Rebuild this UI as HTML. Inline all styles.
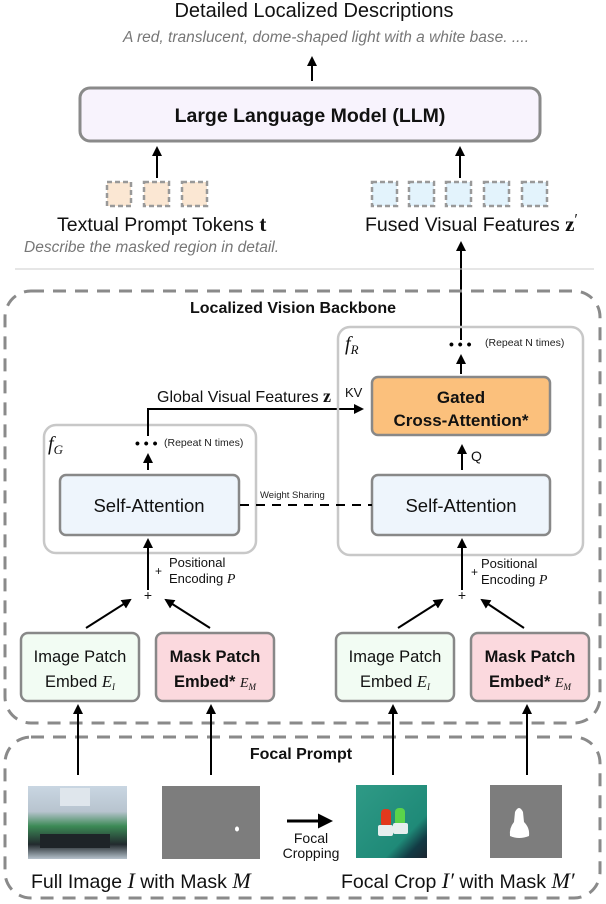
<!DOCTYPE html>
<html><head><meta charset="utf-8"><style>
html,body{margin:0;padding:0;background:#fff;}
svg{display:block;}
text{font-family:"Liberation Sans",sans-serif;}
.m{font-family:"Liberation Serif",serif;font-style:italic;}
</style></head><body>
<svg width="606" height="904" viewBox="0 0 606 904" xmlns="http://www.w3.org/2000/svg">
<defs>
<marker id="ah" viewBox="0 0 10 10" refX="8" refY="5" markerWidth="5" markerHeight="5" orient="auto-start-reverse"><path d="M0,0 L10,5 L0,10 z" fill="#000"/></marker>
<linearGradient id="g1" x1="0" y1="0" x2="0" y2="1"><stop offset="0" stop-color="#c9d6e2"/><stop offset="0.35" stop-color="#b8c4cf"/><stop offset="0.55" stop-color="#3c8a56"/><stop offset="0.8" stop-color="#222a2e"/><stop offset="1" stop-color="#b6c2cc"/></linearGradient>
<linearGradient id="g2" x1="0" y1="0" x2="1" y2="1"><stop offset="0" stop-color="#2f9a86"/><stop offset="0.7" stop-color="#1f8a78"/><stop offset="0.85" stop-color="#123a44"/><stop offset="1" stop-color="#1b2530"/></linearGradient>
</defs>

<text x="314" y="17" font-size="20" text-anchor="middle" fill="#111">Detailed Localized Descriptions</text>
<text x="326" y="42" font-size="15.5" font-style="italic" text-anchor="middle" fill="#777">A red, translucent, dome-shaped light with a white base. ....</text>
<line x1="312" y1="81" x2="312" y2="58" stroke="#000" stroke-width="2" marker-end="url(#ah)"/>
<rect x="80" y="88" width="460" height="53" rx="10" fill="#f8f3fd" stroke="#8a8a8a" stroke-width="3"/>
<text x="310" y="122" font-size="19.5" font-weight="bold" text-anchor="middle" fill="#111">Large Language Model (LLM)</text>
<line x1="157" y1="178" x2="157" y2="148" stroke="#000" stroke-width="2" marker-end="url(#ah)"/>
<line x1="460" y1="178" x2="460" y2="148" stroke="#000" stroke-width="2" marker-end="url(#ah)"/>
<g fill="#fbe7d3" stroke="#999" stroke-width="2.5" stroke-dasharray="5,3">
<rect x="107" y="182" width="24" height="24"/><rect x="144" y="182" width="25" height="24"/><rect x="182" y="182" width="25" height="24"/>
</g>
<g fill="#e3f3fc" stroke="#999" stroke-width="2.5" stroke-dasharray="5,3">
<rect x="372" y="182" width="25" height="24"/><rect x="409" y="182" width="25" height="24"/><rect x="446" y="182" width="25" height="24"/><rect x="484" y="182" width="25" height="24"/><rect x="522" y="182" width="25" height="24"/>
</g>
<text x="57" y="231" font-size="19.5" fill="#111">Textual Prompt Tokens <tspan font-family="Liberation Serif" font-weight="bold" font-size="21">t</tspan></text>
<text x="24" y="252" font-size="15.5" font-style="italic" fill="#777">Describe the masked region in detail.</text>
<text x="365" y="231" font-size="19.5" fill="#111">Fused Visual Features <tspan font-family="Liberation Serif" font-weight="bold" font-size="21">z</tspan><tspan font-size="15" dy="-7">′</tspan></text>
<line x1="461" y1="340" x2="461" y2="243" stroke="#000" stroke-width="2" marker-end="url(#ah)"/>
<line x1="15" y1="269" x2="594" y2="269" stroke="#ccc" stroke-width="1"/>

<rect x="5" y="291" width="595" height="432" rx="26" fill="none" stroke="#8a8a8a" stroke-width="3" stroke-dasharray="13,9"/>
<text x="293" y="313" font-size="16" font-weight="bold" text-anchor="middle" fill="#111">Localized Vision Backbone</text>
<rect x="5" y="737" width="595" height="161" rx="26" fill="none" stroke="#8a8a8a" stroke-width="3" stroke-dasharray="13,9"/>
<text x="301" y="759" font-size="16" font-weight="bold" text-anchor="middle" fill="#111">Focal Prompt</text>

<rect x="44" y="425" width="212" height="128" rx="12" fill="none" stroke="#c8c8c8" stroke-width="2.5"/>
<text x="48" y="450" class="m" font-size="20" fill="#111">f<tspan font-size="13" dy="4">G</tspan></text>
<text x="135" y="448" font-size="14" font-weight="bold" fill="#000">• • •</text>
<text x="164" y="446" font-size="10.5" fill="#222">(Repeat N times)</text>
<line x1="148" y1="470" x2="148" y2="455" stroke="#000" stroke-width="2" marker-end="url(#ah)"/>
<rect x="60" y="475" width="179" height="60" rx="6" fill="#eef5fc" stroke="#888" stroke-width="2.5"/>
<text x="149" y="512" font-size="18.5" text-anchor="middle" fill="#111">Self-Attention</text>
<polyline points="148,436 148,409 362,409" fill="none" stroke="#000" stroke-width="2" marker-end="url(#ah)"/>
<text x="157" y="402" font-size="16" fill="#111">Global Visual Features <tspan font-family="Liberation Serif" font-weight="bold" font-size="18">z</tspan></text>
<text x="345" y="397" font-size="13" fill="#111">KV</text>

<rect x="338" y="327" width="245" height="228" rx="12" fill="none" stroke="#c8c8c8" stroke-width="2.5"/>
<text x="345" y="350" class="m" font-size="20" fill="#111">f<tspan font-size="13" dy="4">R</tspan></text>
<text x="449" y="349" font-size="14" font-weight="bold" fill="#000">• • •</text>
<text x="485" y="346" font-size="10.5" fill="#222">(Repeat N times)</text>
<line x1="461" y1="374" x2="461" y2="356" stroke="#000" stroke-width="2" marker-end="url(#ah)"/>
<rect x="372" y="377" width="178" height="58" rx="6" fill="#fbc07c" stroke="#888" stroke-width="2.5"/>
<text x="461" y="403" font-size="17" font-weight="bold" text-anchor="middle" fill="#111">Gated</text>
<text x="461" y="426" font-size="17" font-weight="bold" text-anchor="middle" fill="#111">Cross-Attention*</text>
<line x1="462" y1="470" x2="462" y2="446" stroke="#000" stroke-width="2" marker-end="url(#ah)"/>
<text x="471" y="461" font-size="14" fill="#111">Q</text>
<rect x="372" y="475" width="178" height="60" rx="6" fill="#eef5fc" stroke="#888" stroke-width="2.5"/>
<text x="461" y="512" font-size="18.5" text-anchor="middle" fill="#111">Self-Attention</text>
<line x1="240" y1="505" x2="372" y2="505" stroke="#000" stroke-width="2" stroke-dasharray="9,7"/>
<text x="260" y="498" font-size="9.5" fill="#222">Weight Sharing</text>

<line x1="148" y1="590" x2="148" y2="540" stroke="#000" stroke-width="2" marker-end="url(#ah)"/>
<text x="155" y="575" font-size="12" fill="#111">+</text>
<text x="169" y="567" font-size="13" fill="#111">Positional</text>
<text x="169" y="583" font-size="13" fill="#111">Encoding <tspan class="m" font-size="14">P</tspan></text>
<text x="148" y="600" font-size="14" text-anchor="middle" fill="#111">+</text>
<line x1="462" y1="590" x2="462" y2="540" stroke="#000" stroke-width="2" marker-end="url(#ah)"/>
<text x="471" y="576" font-size="12" fill="#111">+</text>
<text x="481" y="568" font-size="13" fill="#111">Positional</text>
<text x="481" y="584" font-size="13" fill="#111">Encoding <tspan class="m" font-size="14">P</tspan></text>
<text x="462" y="600" font-size="14" text-anchor="middle" fill="#111">+</text>
<g stroke="#000" stroke-width="2" marker-end="url(#ah)">
<line x1="86" y1="628" x2="130" y2="600"/><line x1="210" y1="628" x2="166" y2="600"/>
<line x1="398" y1="628" x2="442" y2="600"/><line x1="524" y1="628" x2="482" y2="600"/>
</g>

<rect x="21" y="633" width="118" height="68" rx="7" fill="#f2fcf3" stroke="#888" stroke-width="2.5"/>
<text x="80" y="662" font-size="16.5" text-anchor="middle" fill="#111">Image Patch</text>
<text x="80" y="687" font-size="16.5" text-anchor="middle" fill="#111">Embed <tspan class="m">E</tspan><tspan class="m" font-size="9" dy="3">I</tspan></text>
<rect x="156" y="633" width="118" height="68" rx="7" fill="#fbd9de" stroke="#888" stroke-width="2.5"/>
<text x="215" y="662" font-size="16.5" font-weight="bold" text-anchor="middle" fill="#111">Mask Patch</text>
<text x="215" y="687" font-size="16.5" font-weight="bold" text-anchor="middle" fill="#111">Embed* <tspan class="m" font-weight="normal" font-size="14">E</tspan><tspan class="m" font-weight="normal" font-size="9" dy="3">M</tspan></text>
<rect x="336" y="633" width="118" height="68" rx="7" fill="#f2fcf3" stroke="#888" stroke-width="2.5"/>
<text x="395" y="662" font-size="16.5" text-anchor="middle" fill="#111">Image Patch</text>
<text x="395" y="687" font-size="16.5" text-anchor="middle" fill="#111">Embed <tspan class="m">E</tspan><tspan class="m" font-size="9" dy="3">I</tspan></text>
<rect x="471" y="633" width="118" height="68" rx="7" fill="#fbd9de" stroke="#888" stroke-width="2.5"/>
<text x="530" y="662" font-size="16.5" font-weight="bold" text-anchor="middle" fill="#111">Mask Patch</text>
<text x="530" y="687" font-size="16.5" font-weight="bold" text-anchor="middle" fill="#111">Embed* <tspan class="m" font-weight="normal" font-size="14">E</tspan><tspan class="m" font-weight="normal" font-size="9" dy="3">M</tspan></text>
<g stroke="#000" stroke-width="2" marker-end="url(#ah)">
<line x1="78" y1="775" x2="78" y2="706"/><line x1="211" y1="775" x2="211" y2="706"/>
<line x1="393" y1="775" x2="393" y2="706"/><line x1="527" y1="775" x2="527" y2="706"/>
</g>

<rect x="28" y="786" width="99" height="73" fill="url(#g1)"/>
<rect x="40" y="808" width="78" height="22" fill="#3f9458" transform="skewX(-10)"/>
<rect x="60" y="788" width="30" height="18" fill="#dfe6ec"/>
<rect x="40" y="834" width="70" height="14" fill="#1e2428"/>
<rect x="162" y="786" width="98" height="73" fill="#7d7d7d"/>
<ellipse cx="237" cy="829" rx="2" ry="2.5" fill="#fff"/>
<line x1="287" y1="821" x2="330" y2="821" stroke="#000" stroke-width="3" marker-end="url(#ah)"/>
<text x="311" y="843" font-size="14" text-anchor="middle" fill="#111">Focal</text>
<text x="311" y="858" font-size="14" text-anchor="middle" fill="#111">Cropping</text>
<rect x="356" y="785" width="71" height="73" fill="url(#g2)"/>
<rect x="381" y="809" width="10" height="18" rx="4" fill="#e2381c"/>
<rect x="395" y="808" width="10" height="18" rx="4" fill="#5bd34a"/>
<rect x="378" y="825" width="15" height="11" rx="2" fill="#e6eeee"/>
<rect x="393" y="823" width="15" height="11" rx="2" fill="#e6eeee"/>
<rect x="490" y="785" width="72" height="73" fill="#7d7d7d"/>
<path d="M515,812 Q519,804 523,812 L524,822 Q530,828 529,836 Q519,840 510,836 Q509,828 514,822 Z" fill="#fff"/>
<text x="31" y="888" font-size="19.5" fill="#111">Full Image <tspan class="m" font-size="22">I</tspan> with Mask <tspan class="m" font-size="22">M</tspan></text>
<text x="341" y="888" font-size="19.5" fill="#111">Focal Crop <tspan class="m" font-size="22">I′</tspan> with Mask <tspan class="m" font-size="22">M′</tspan></text>
</svg>
</body></html>
